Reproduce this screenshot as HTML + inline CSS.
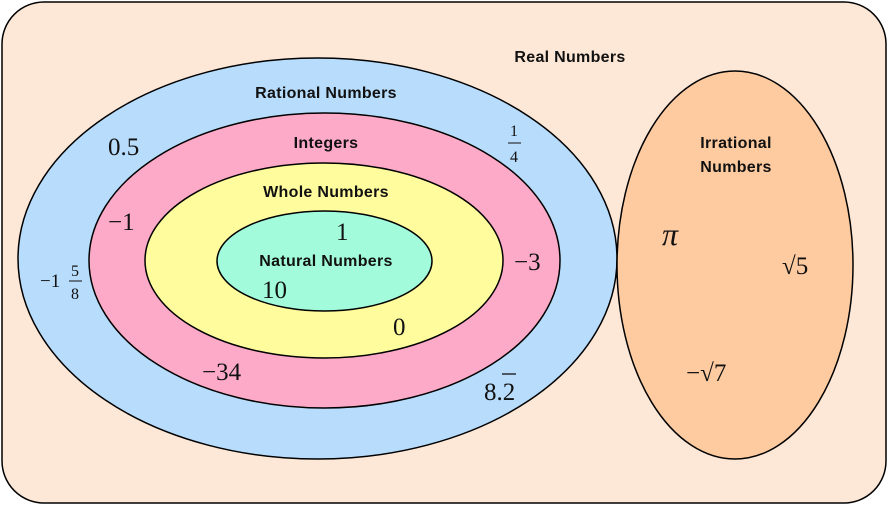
<!DOCTYPE html>
<html><head><meta charset="utf-8"><style>
html,body{margin:0;padding:0;background:#fff;}
svg{display:block;}
.l{font-family:"Liberation Sans",sans-serif;font-weight:bold;font-size:16px;letter-spacing:0.3px;fill:#111;}
.m{font-family:"Liberation Serif",serif;font-size:25px;fill:#111;}
.s{font-family:"Liberation Serif",serif;font-size:16px;fill:#111;}
</style></head><body>
<svg width="888" height="505" viewBox="0 0 888 505">
<rect x="2" y="2" width="884" height="501" rx="42" fill="#fde8d8" stroke="#000" stroke-width="1.5"/>
<ellipse cx="317.5" cy="258.5" rx="299.5" ry="200.5" fill="#b8dcfc" stroke="#000" stroke-width="1.5"/>
<ellipse cx="324.5" cy="260.5" rx="235.5" ry="147.5" fill="#fdaac8" stroke="#000" stroke-width="1.5"/>
<ellipse cx="324" cy="260.5" rx="179" ry="97.5" fill="#fffc9e" stroke="#000" stroke-width="1.5"/>
<ellipse cx="324.5" cy="261" rx="107.5" ry="50" fill="#a2fcdc" stroke="#000" stroke-width="1.5"/>
<ellipse cx="735" cy="265" rx="118" ry="194" fill="#fecba1" stroke="#000" stroke-width="1.5"/>
<text class="l" x="570" y="62" text-anchor="middle">Real Numbers</text>
<text class="l" x="326" y="98" text-anchor="middle">Rational Numbers</text>
<text class="l" x="326" y="148" text-anchor="middle">Integers</text>
<text class="l" x="326" y="197" text-anchor="middle">Whole Numbers</text>
<text class="l" x="326" y="266" text-anchor="middle">Natural Numbers</text>
<text class="l" x="736" y="148" text-anchor="middle">Irrational</text>
<text class="l" x="736" y="172" text-anchor="middle">Numbers</text>
<text class="m" x="108" y="155">0.5</text>
<text class="s" x="510" y="136">1</text>
<line x1="508" y1="143" x2="521" y2="143" stroke="#111" stroke-width="1"/>
<text class="s" x="510" y="162">4</text>
<text class="m" x="108" y="230">−1</text>
<text class="m" x="40" y="287" style="font-size:19px">−1</text>
<text class="s" x="71" y="276">5</text>
<line x1="69" y1="281" x2="82" y2="281" stroke="#111" stroke-width="1"/>
<text class="s" x="71" y="299">8</text>
<text class="m" x="336" y="240">1</text>
<text class="m" x="262" y="298">10</text>
<text class="m" x="393" y="335">0</text>
<text class="m" x="514" y="270">−3</text>
<text class="m" x="202" y="380">−34</text>
<text class="m" x="484" y="400">8.2</text>
<line x1="502" y1="374" x2="516" y2="374" stroke="#111" stroke-width="1.3"/>
<text class="m" x="662" y="245" style="font-style:italic;font-size:32px">π</text>
<text class="m" x="782" y="274">√5</text>
<text class="m" x="686" y="381">−√7</text>
</svg>
</body></html>
